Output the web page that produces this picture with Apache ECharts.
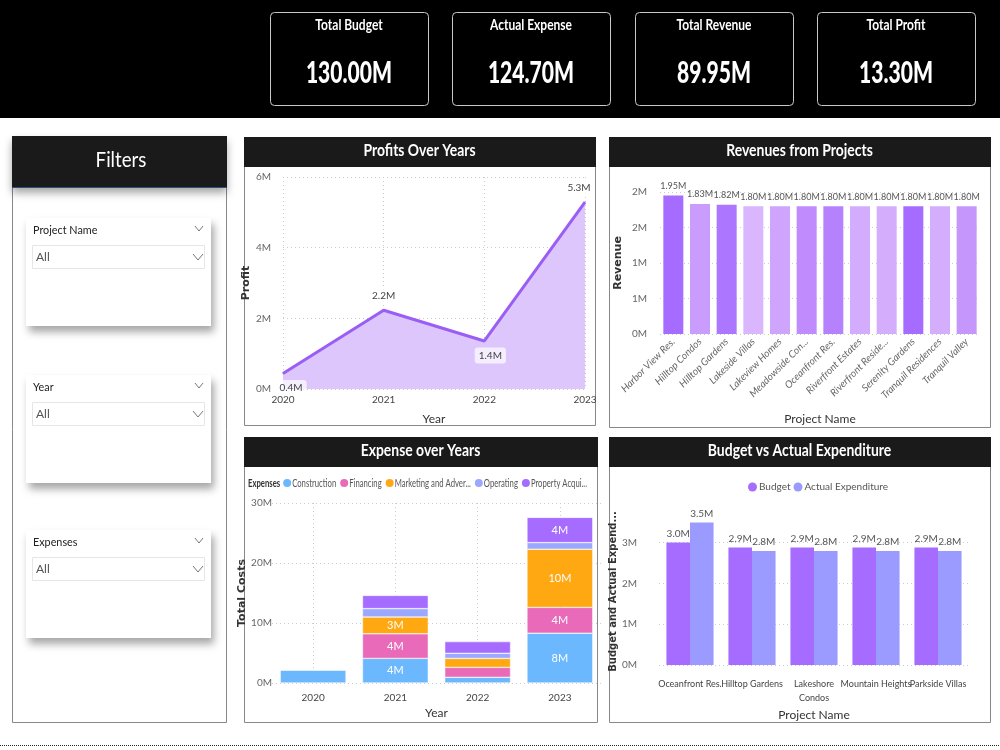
<!DOCTYPE html>
<html>
<head>
<meta charset="utf-8">
<script src="https://cdn.jsdelivr.net/npm/echarts@6/dist/echarts.min.js"></script>
<style>
html,body{margin:0;padding:0;background:#fff;}
#main{width:1000px;height:750px;}
</style>
</head>
<body>
<div id="main"></div>
<script>
// ---------- data ----------
const kpiTitles = ['Total Budget', 'Actual Expense', 'Total Revenue', 'Total Profit'];
const kpiValues = ['130.00M', '124.70M', '89.95M', '13.30M'];

const profitYears = ['2020', '2021', '2022', '2023'];
const profitValues = [0.44, 2.23, 1.36, 5.29];

const revenueProjects = ['Harbor View Res.', 'Hilltop Condos', 'Hilltop Gardens', 'Lakeside Villas', 'Lakeview Homes', 'Meadowside Con...', 'Oceanfront Res.', 'Riverfront Estates', 'Riverfront Reside...', 'Serenity Gardens', 'Tranquil Residences', 'Tranquil Valley'];
const revenueValues = [1.95, 1.83, 1.82, 1.80, 1.80, 1.80, 1.80, 1.80, 1.80, 1.80, 1.80, 1.80];

const expenseYears = ['2020', '2021', '2022', '2023'];
const expenseNames = ['Construction', 'Financing', 'Marketing and Adver...', 'Operating', 'Property Acqui...'];
const construction = [2.2, 4.1, 0.95, 8.3];
const financing = [0, 4.1, 1.65, 4.3];
const marketing = [0, 2.8, 1.5, 9.7];
const operating = [0, 1.4, 0.85, 1.1];
const property = [0, 2.2, 1.95, 4.2];

const budgetProjects = ['Oceanfront Res.', 'Hilltop Gardens', 'Lakeshore\nCondos', 'Mountain Heights', 'Parkside Villas'];
const budgetValues = [3.0, 2.88, 2.88, 2.88, 2.88];
const actualValues = [3.49, 2.79, 2.79, 2.79, 2.79];

const filterNames = ['Project Name', 'Year', 'Expenses'];

// ---------- styles ----------
const FONT = "Lato,'Open Sans',sans-serif";
const revenueColors = ['#a66bff', '#c99cfd', '#ad76ff', '#dab6fe', '#cea4fc', '#c08bfd', '#b681fd', '#d3acfd', '#d4aefd', '#a66bff', '#d4aefd', '#c597fd'];
const expenseColors = ['#6bb8ff', '#e86ab9', '#ffa811', '#9aa8ff', '#a66bff'];
const expenseData = [construction, financing, marketing, operating, property];

const chart = echarts.init(document.getElementById('main'), null, { renderer: 'canvas' });

const graphics = [];
// top band
graphics.push({ type: 'rect', z: -20, shape: { x: 0, y: 0, width: 1000, height: 118 }, style: { fill: '#000' } });
// KPI cards
const kpiX = [270, 452, 635, 817];
kpiTitles.forEach((t, i) => {
  graphics.push({ type: 'rect', z: -10, shape: { x: kpiX[i] + 0.5, y: 12.5, width: 158, height: 93, r: 4 }, style: { fill: '#000', stroke: '#c8c8c8', lineWidth: 1 } });
  graphics.push({ type: 'text', z: 10, x: kpiX[i] + 79, y: 25, scaleX: 0.8, style: { text: t, fill: '#fff', font: 'bold 15px ' + FONT, textAlign: 'center', textVerticalAlign: 'middle' } });
  graphics.push({ type: 'text', z: 10, x: kpiX[i] + 79, y: 73, scaleX: 0.68, style: { text: kpiValues[i], fill: '#fff', font: '900 31px ' + FONT, textAlign: 'center', textVerticalAlign: 'middle' } });
});
// filters panel
graphics.push({ type: 'rect', z: -10, shape: { x: 12.5, y: 136.5, width: 214, height: 586 }, style: { fill: '#fff', stroke: '#888', lineWidth: 1 } });
graphics.push({ type: 'rect', z: -9, shape: { x: 12, y: 136, width: 215, height: 52 }, style: { fill: '#1a1a1a', shadowBlur: 8, shadowColor: 'rgba(0,0,0,0.35)', shadowOffsetY: 5 } });
graphics.push({ type: 'line', z: -8, shape: { x1: 12, y1: 187.5, x2: 227, y2: 187.5 }, style: { stroke: '#2b4f7e', lineWidth: 1 } });
graphics.push({ type: 'text', z: 10, x: 121, y: 160, scaleX: 0.85, style: { text: 'Filters', fill: '#fff', font: '22px ' + FONT, textAlign: 'center', textVerticalAlign: 'middle' } });
const cardY = [218, 375, 530];
filterNames.forEach((n, i) => {
  const y = cardY[i];
  graphics.push({ type: 'rect', z: -8, shape: { x: 26, y: y, width: 185, height: 108 }, style: { fill: '#fff', shadowBlur: 8, shadowColor: 'rgba(0,0,0,0.35)', shadowOffsetX: 3, shadowOffsetY: 6 } });
  graphics.push({ type: 'text', z: 10, x: 33, y: y + 12, scaleX: 0.9, style: { text: n, fill: '#222', font: '12px ' + FONT, textVerticalAlign: 'middle' } });
  graphics.push({ type: 'polyline', z: 10, shape: { points: [[195, y + 8], [199, y + 13], [203, y + 8]] }, style: { stroke: '#777', lineWidth: 1, fill: null } });
  graphics.push({ type: 'rect', z: -7, shape: { x: 32.5, y: y + 27.5, width: 172, height: 23 }, style: { fill: '#fff', stroke: '#e6e6e6', lineWidth: 1 } });
  graphics.push({ type: 'text', z: 10, x: 36, y: y + 39, style: { text: 'All', fill: '#555', font: '12px ' + FONT, textVerticalAlign: 'middle' } });
  graphics.push({ type: 'polyline', z: 10, shape: { points: [[193, y + 36], [198, y + 42], [203, y + 36]] }, style: { stroke: '#777', lineWidth: 1, fill: null } });
});
// chart panels
const panels = [
  { x: 244, y: 137, w: 351, h: 288, title: 'Profits Over Years' },
  { x: 609, y: 137, w: 381, h: 290, title: 'Revenues from Projects' },
  { x: 244, y: 437, w: 353, h: 285, title: 'Expense over Years' },
  { x: 609, y: 437, w: 381, h: 285, title: 'Budget vs Actual Expenditure' }
];
panels.forEach(p => {
  graphics.push({ type: 'rect', z: -10, shape: { x: p.x + 0.5, y: p.y + 0.5, width: p.w, height: p.h }, style: { fill: '#fff', stroke: '#888', lineWidth: 1 } });
  graphics.push({ type: 'rect', z: -9, shape: { x: p.x, y: p.y, width: p.w + 1, height: 30 }, style: { fill: '#1a1a1a' } });
  graphics.push({ type: 'text', z: 10, x: p.x + p.w / 2, y: p.y + 14, scaleX: 0.82, style: { text: p.title, fill: '#fff', font: 'bold 17px ' + FONT, textAlign: 'center', textVerticalAlign: 'middle' } });
});

// expense legend (condensed text, drawn as graphic so it fits the panel like the original)
(function () {
  const ctx = document.createElement('canvas').getContext('2d');
  const lf = '11px ' + FONT;
  ctx.font = 'bold 11px ' + FONT;
  const titleW = ctx.measureText('Expenses').width;
  ctx.font = lf;
  const widths = expenseNames.map(n => ctx.measureText(n).width);
  const startX = 248, endX = 588, dotW = 10, gap = 3;
  const total = titleW + widths.reduce((a, b) => a + b, 0);
  const s = (endX - startX - expenseNames.length * dotW - expenseNames.length * gap) / total;
  const y = 483;
  graphics.push({ type: 'text', z: 10, x: startX, y: y, scaleX: s, style: { text: 'Expenses', fill: '#333', font: 'bold 11px ' + FONT, textVerticalAlign: 'middle' } });
  let x = startX + titleW * s + gap;
  expenseNames.forEach((n, i) => {
    graphics.push({ type: 'circle', z: 10, shape: { cx: x + 4, cy: y, r: 4 }, style: { fill: expenseColors[i] } });
    graphics.push({ type: 'text', z: 10, x: x + dotW - 1, y: y, scaleX: s, style: { text: n, fill: '#555', font: lf, textVerticalAlign: 'middle' } });
    x += dotW + widths[i] * s + gap;
  });
})();

// bottom dotted line
graphics.push({ type: 'line', z: -10, shape: { x1: 0, y1: 745.5, x2: 1000, y2: 745.5 }, style: { stroke: '#222', lineWidth: 1, lineDash: [1, 1] } });

const axisLabelStyle = { color: '#666', fontSize: 10, fontFamily: FONT };
const splitDotted = { show: true, lineStyle: { type: [1, 3], color: '#ccc' } };
const nameStyleBold = { color: '#333', fontSize: 11, fontWeight: 'bold', fontFamily: "'DejaVu Sans',sans-serif" };
const nameStyleX = { color: '#333', fontSize: 12, fontFamily: FONT };

const profitLabelPos = ['bottom', 'top', 'bottom', 'top'];
const profitLabelOffset = [[8, 0], [0, 0], [6, 0], [-6, 0]];

// helper axis for the expense chart: vertical grid lines through the category centres
const expenseCentreTicks = Array(expenseYears.length * 2 + 1).fill('');

const option = {
  animation: false,
  backgroundColor: '#fff',
  textStyle: { fontFamily: FONT },
  graphic: graphics,
  legend: [
    {
      data: expenseNames, show: false
    },
    {
      data: ['Budget', 'Actual Expenditure'], left: 743, top: 477, itemWidth: 9, itemHeight: 9, itemGap: 3, icon: 'circle',
      textStyle: { color: '#555', fontSize: 10, fontFamily: FONT, padding: [0, 0, 0, -3] }
    }
  ],
  grid: [
    { left: 283, right: 415, top: 177, bottom: 361 },
    { left: 660, right: 20, top: 192, bottom: 416 },
    { left: 272, right: 399, top: 503, bottom: 67 },
    { left: 659, right: 31, top: 518, bottom: 85 }
  ],
  xAxis: [
    {
      gridIndex: 0, type: 'category', data: profitYears, boundaryGap: false,
      axisLine: { show: false }, axisTick: { show: false },
      axisLabel: Object.assign({ margin: 6 }, axisLabelStyle, { color: '#444' }),
      splitLine: splitDotted,
      name: 'Year', nameLocation: 'middle', nameGap: 24, nameTextStyle: nameStyleX
    },
    {
      gridIndex: 1, type: 'category', data: revenueProjects,
      axisLine: { show: false }, axisTick: { show: false },
      axisLabel: Object.assign({ rotate: 45, interval: 0, fontStyle: 'italic', margin: 6 }, axisLabelStyle),
      name: 'Project Name', nameLocation: 'middle', nameGap: 79, nameTextStyle: nameStyleX
    },
    {
      gridIndex: 2, type: 'category', data: expenseYears,
      axisLine: { show: false }, axisTick: { show: false },
      axisLabel: Object.assign({ margin: 10 }, axisLabelStyle, { color: '#444' }),
      splitLine: { show: false },
      name: 'Year', nameLocation: 'middle', nameGap: 24, nameTextStyle: nameStyleX
    },
    {
      gridIndex: 3, type: 'category', data: budgetProjects,
      axisLine: { show: false }, axisTick: { show: false },
      axisLabel: Object.assign({ interval: 0, margin: 12, lineHeight: 14 }, axisLabelStyle, { color: '#444', fontSize: 9 }),
      name: 'Project Name', nameLocation: 'middle', nameGap: 44, nameTextStyle: nameStyleX
    },
    {
      gridIndex: 2, type: 'category', data: expenseCentreTicks, boundaryGap: false,
      axisLine: { show: false }, axisTick: { show: false }, axisLabel: { show: false },
      splitLine: Object.assign({ interval: (idx) => idx % 2 === 1 }, splitDotted)
    }
  ],
  yAxis: [
    {
      gridIndex: 0, type: 'value', min: 0, max: 6, interval: 2,
      axisLabel: Object.assign({ formatter: v => v + 'M', margin: 12 }, axisLabelStyle),
      splitLine: splitDotted,
      name: 'Profit', nameLocation: 'middle', nameGap: 23, nameTextStyle: nameStyleBold
    },
    {
      gridIndex: 1, type: 'value', min: 0, max: 2, interval: 0.5,
      axisLabel: Object.assign({ formatter: v => Math.round(v) + 'M', margin: 13 }, axisLabelStyle),
      splitLine: splitDotted,
      name: 'Revenue', nameLocation: 'middle', nameGap: 36, nameTextStyle: nameStyleBold
    },
    {
      gridIndex: 2, type: 'value', min: 0, max: 30, interval: 10,
      axisLabel: Object.assign({ formatter: v => v + 'M', margin: 0 }, axisLabelStyle),
      splitLine: splitDotted,
      name: 'Total Costs', nameLocation: 'middle', nameGap: 7, nameTextStyle: nameStyleBold
    },
    {
      gridIndex: 3, type: 'value', min: 0, max: 3.6, interval: 1,
      axisLabel: Object.assign({ formatter: v => v + 'M', margin: 22, showMaxLabel: false }, axisLabelStyle),
      splitLine: Object.assign({ showMaxLine: false }, splitDotted),
      name: 'Budget and Actual Expend...', nameLocation: 'middle', nameGap: 33,
      nameTextStyle: Object.assign({}, nameStyleBold, { fontSize: 10 })
    }
  ],
  series: [
    {
      type: 'line', xAxisIndex: 0, yAxisIndex: 0, name: 'Profit',
      data: profitValues.map((v, i) => ({
        value: v,
        label: { position: profitLabelPos[i], offset: profitLabelOffset[i] }
      })),
      showSymbol: true, symbol: 'circle', symbolSize: 1,
      itemStyle: { color: '#9b5ef5' },
      lineStyle: { color: '#9b5ef5', width: 3 },
      areaStyle: { color: '#dcc6fc', opacity: 1 },
      label: {
        show: true, formatter: p => p.value.toFixed(1) + 'M', color: '#444', fontSize: 10, fontFamily: FONT,
        backgroundColor: 'rgba(255,255,255,0.7)', padding: [3, 4], borderRadius: 3, distance: 6
      }
    },
    {
      type: 'bar', xAxisIndex: 1, yAxisIndex: 1, name: 'Revenue', barWidth: 20,
      data: revenueValues.map((v, i) => ({ value: v, itemStyle: { color: revenueColors[i] } })),
      label: { show: true, position: 'top', formatter: p => p.value.toFixed(2) + 'M', color: '#555', fontSize: 9, fontFamily: FONT, distance: 5 }
    },
    ...expenseNames.map((n, k) => ({
      type: 'bar', xAxisIndex: 2, yAxisIndex: 2, name: n, stack: 'exp', barCategoryGap: '20%',
      data: expenseData[k],
      itemStyle: { color: expenseColors[k], borderColor: '#fff', borderWidth: 0.5 },
      label: { show: true, position: 'inside', color: '#fff', fontSize: 11, fontFamily: FONT, formatter: p => p.value >= 2.5 ? Math.round(p.value) + 'M' : '' }
    })),
    {
      type: 'bar', xAxisIndex: 3, yAxisIndex: 3, name: 'Budget', data: budgetValues, barGap: '0%', barCategoryGap: '24%',
      itemStyle: { color: '#a66bff' },
      label: { show: true, position: 'top', formatter: p => p.value.toFixed(1) + 'M', color: '#555', fontSize: 10, fontFamily: FONT, distance: 4 }
    },
    {
      type: 'bar', xAxisIndex: 3, yAxisIndex: 3, name: 'Actual Expenditure', data: actualValues, barGap: '0%', barCategoryGap: '24%',
      itemStyle: { color: '#9b9bff' },
      label: { show: true, position: 'top', formatter: p => p.value.toFixed(1) + 'M', color: '#555', fontSize: 10, fontFamily: FONT, distance: 4 }
    }
  ]
};
chart.setOption(option);
</script>
</body>
</html>
